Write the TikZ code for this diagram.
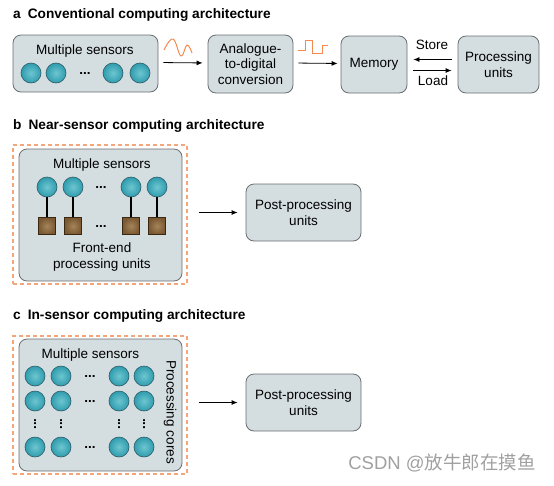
\documentclass[tikz,border=0pt]{standalone}
\usepackage{fontspec}
\setmainfont{Liberation Sans}
\newfontfamily\cjkfont{Noto Sans CJK SC}
\usepackage{tikz}
\usepackage{xcolor}
\usetikzlibrary{calc,arrows.meta}
\definecolor{boxfill}{HTML}{D4DDE0}
\definecolor{boxline}{HTML}{6A6E70}
\definecolor{tealin}{HTML}{6EC6D0}
\definecolor{tealout}{HTML}{2F9CAE}
\definecolor{tealline}{HTML}{2F5C66}
\definecolor{brownin}{HTML}{A5845A}
\definecolor{brownout}{HTML}{7A5832}
\definecolor{brownline}{HTML}{3A2812}
\definecolor{signal}{HTML}{F5894F}
\definecolor{frame}{HTML}{F5A57A}
\definecolor{mark}{HTML}{A0A0A0}

\begin{document}
\begin{tikzpicture}[x=1pt,y=-1pt]
    \tikzstyle{every node}=[font=\fontsize{13.5}{15.5}\selectfont, inner sep=0pt]
    \tikzstyle{unit}=[draw=boxline, fill=boxfill, line width=0.8pt, rounded corners=8pt, align=center]
    \tikzstyle{sensor}=[circle, draw=tealline, line width=0.6pt, inner color=tealin, outer color=tealout, minimum size=20pt]
    \tikzstyle{frontend}=[rectangle, draw=brownline, line width=0.8pt, inner color=brownin, outer color=brownout, minimum size=17pt]
    \tikzstyle{outline}=[draw=frame, line width=1.3pt, dash pattern=on 4pt off 3pt]
    \tikzstyle{flow}=[-{Latex[length=6pt,width=5pt]}, line width=0.8pt]
    \tikzstyle{heading}=[anchor=west, font=\fontsize{13.7}{15.5}\selectfont\bfseries]
    \tikzstyle{wave}=[draw=signal, line width=1pt]
    \tikzstyle{gap}=[font=\fontsize{13.5}{15.5}\selectfont\bfseries]
    \useasboundingbox (0,0) rectangle (554,485);

    % a
    \node[heading] (ta) at (13,15) {a\hspace{7pt}Conventional computing architecture};
    \node[unit, minimum width=145pt, minimum height=57pt] (sa) at (85.5,63.5) {};
    \node (sat) at (85,51) {Multiple sensors};
    \node[sensor] (a1) at (31,73) {};
    \node[sensor] (a2) at (56,73) {};
    \node[gap] (ad) at (85,73) {...};
    \node[sensor] (a3) at (113,73) {};
    \node[sensor] (a4) at (140,73) {};

    \node[unit, minimum width=85pt, minimum height=58pt] (adc) at (250.5,64) {Analogue-\\to-digital\\conversion};
    \node[unit, minimum width=66pt, minimum height=57pt] (mem) at (374,64.5) {Memory};
    \node[unit, minimum width=81pt, minimum height=57pt] (proc) at (498.5,64.5) {Processing\\units};

    \draw[flow, shorten <=5pt, shorten >=5pt] ($(sa.east)+(0,-1)$) to ($(adc.west)+(0,-1)$);
    \draw[flow, shorten <=5pt, shorten >=3pt] ($(adc.east)+(0,-1)$) to ($(mem.west)+(0,-1)$);
    \draw[flow, shorten <=6pt, shorten >=6pt] ($(proc.west)+(0,-5)$) to ($(mem.east)+(0,-5)$);
    \draw[flow, shorten <=6pt, shorten >=6pt] ($(mem.east)+(0,6)$) to ($(proc.west)+(0,6)$);
    \node (st) at (432,45) {Store};
    \node (ld) at (433,81) {Load};

    \draw[wave] plot[smooth, tension=0.7] coordinates {(164,50) (173,39) (181,56) (187,45) (192,53)};
    \draw[wave] (298,50) -- (305,50) -- (305,40) -- (312,40) -- (312,53) -- (322,53) -- (322,45) -- (328,45);

    % b
    \node[heading] (tb) at (13,126) {b\hspace{7pt}Near-sensor computing architecture};
    \node[outline, minimum width=174pt, minimum height=139pt] (nb) at (100,214.5) {};
    \node[unit, minimum width=163pt, minimum height=132pt] (sb) at (100.5,215) {};
    \node (sbt) at (102,165) {Multiple sensors};
    \node[sensor] (b1) at (47,187) {};
    \node[sensor] (b2) at (73,187) {};
    \node[sensor] (b3) at (131,187) {};
    \node[sensor] (b4) at (157,187) {};
    \node[frontend] (f1) at (47,226) {};
    \node[frontend] (f2) at (73,226) {};
    \node[frontend] (f3) at (131,226) {};
    \node[frontend] (f4) at (157,226) {};
    \draw[line width=1.8pt] (b1) to (f1);
    \draw[line width=1.8pt] (b2) to (f2);
    \draw[line width=1.8pt] (b3) to (f3);
    \draw[line width=1.8pt] (b4) to (f4);
    \node[gap] (bd1) at (101,187) {...};
    \node[gap] (bd2) at (101,226) {...};
    \node[align=center] (fet) at (102,257) {Front-end\\processing units};

    \node[unit, minimum width=115pt, minimum height=57pt] (pb) at (303.5,212.5) {Post-processing\\units};
    \draw[flow, shorten <=11pt, shorten >=8pt] (nb.east |- pb) to (pb);

    % c
    \node[heading] (tc) at (13,316) {c\hspace{7pt}In-sensor computing architecture};
    \node[outline, minimum width=174pt, minimum height=138pt] (nc) at (100,405) {};
    \node[unit, minimum width=163pt, minimum height=132pt] (sc) at (100.5,405) {};
    \node (sct) at (90.5,355) {Multiple sensors};
    \foreach \y/\r in {376/1,401/2,447/3} {
        \node[sensor] (c\r1) at (35,\y) {};
        \node[sensor] (c\r2) at (61,\y) {};
        \node[gap] (cd\r) at (90,\y) {...};
        \node[sensor] (c\r3) at (119,\y) {};
        \node[sensor] (c\r4) at (144,\y) {};
    }
    \foreach \x/\k in {35/1,61/2,119/3,144/4}
        \node[gap, rotate=90] (cv\k) at (\x,424) {...};
    \node[rotate=-90] (pc) at (170,412) {Processing cores};

    \node[unit, minimum width=115pt, minimum height=57pt] (pcc) at (303.5,402.5) {Post-processing\\units};
    \draw[flow, shorten <=11pt, shorten >=8pt] (nc.east |- pcc) to (pcc);

    \node[text=mark, font=\fontsize{18.5}{20}\selectfont] (wm) at (442,463) {CSDN @{\cjkfont 放牛郎在摸鱼}};
\end{tikzpicture}
\end{document}
